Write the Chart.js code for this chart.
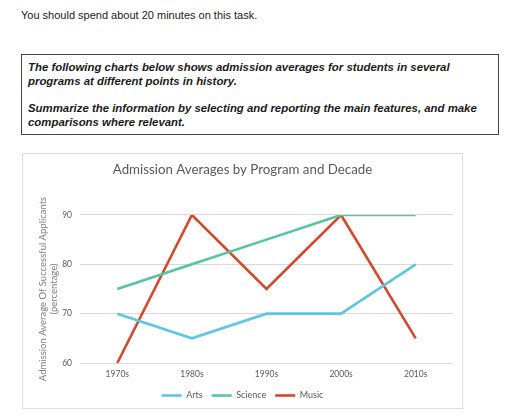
<!DOCTYPE html>
<html>
<head>
<meta charset="utf-8">
<script src="https://cdn.jsdelivr.net/npm/chart.js@4"></script>
<style>
  html, body { margin: 0; padding: 0; background: #fff; }
  body { width: 512px; height: 419px; position: relative; overflow: hidden; font-family: "Liberation Sans", Arial, sans-serif; color: #1a1a1a; }
  #intro { position: absolute; left: 21px; top: 7px; font-size: 11px; line-height: 16px; white-space: nowrap; }
  #task { position: absolute; left: 21px; top: 54px; width: 478px; height: 81px; box-sizing: border-box; border: 1px solid #444; padding: 6px 0 0 6px; font-size: 11.4px; line-height: 13.7px; font-weight: bold; font-style: italic; white-space: nowrap; }
  #task p { margin: 0 0 13.7px 0; }
  #panel { position: absolute; left: 22px; top: 153px; width: 441px; height: 256px; box-sizing: border-box; border: 1px solid #dcdcdc; }
  #chart { position: absolute; left: 22px; top: 153px; }
</style>
</head>
<body>
<div id="intro">You should spend about 20 minutes on this task.</div>
<div id="task">
  <p>The following charts below shows admission averages for students in several<br>programs at different points in history.</p>
  <p>Summarize the information by selecting and reporting the main features, and make<br>comparisons where relevant.</p>
</div>
<div id="panel"></div>
<canvas id="chart" width="441" height="256"></canvas>
<script>
const chartTitle = "Admission Averages by Program and Decade";
const yAxisTitle = ["Admission Average Of Successful Applicants", "(percentage)"];
const decades = ["1970s", "1980s", "1990s", "2000s", "2010s"];
const seriesNames = ["Arts", "Science", "Music"];
const arts = [70, 65, 70, 70, 80];
const science = [75, 80, 85, 90, 90];
const music = [60, 90, 75, 90, 65];
const yTicks = [60, 70, 80, 90];
const colors = ["#5ec6e0", "#55c4a0", "#d8462c"];

const FONT = "Lato, 'Open Sans', sans-serif";
const values = [arts, science, music];

new Chart(document.getElementById("chart"), {
  type: "line",
  data: {
    labels: decades,
    datasets: seriesNames.map((n, i) => ({
      label: n,
      data: values[i],
      borderColor: colors[i],
      backgroundColor: colors[i],
      borderWidth: 2.6,
      pointRadius: 0,
      tension: 0,
      fill: false
    }))
  },
  options: {
    responsive: false,
    animation: false,
    devicePixelRatio: 1,
    layout: { padding: { left: 10, right: 10, top: 0, bottom: -1 } },
    plugins: {
      tooltip: { enabled: false },
      title: {
        display: true,
        text: chartTitle,
        color: "#595959",
        font: { family: FONT, size: 13.3, weight: "normal" },
        padding: { top: 9, bottom: 37 }
      },
      legend: {
        position: "bottom",
        labels: {
          color: "#595959",
          font: { family: FONT, size: 9 },
          boxWidth: 20,
          boxHeight: 2.6,
          padding: 9,
          generateLabels: (chart) => Chart.defaults.plugins.legend.labels.generateLabels(chart).map(it => Object.assign(it, { lineWidth: 0 }))
        }
      }
    },
    scales: {
      x: {
        type: "category",
        offset: true,
        grid: { display: false, drawTicks: false },
        border: { display: false },
        ticks: { color: "#595959", font: { family: FONT, size: 8.5 }, padding: 6, maxRotation: 0 },
        afterFit: (s) => { s.height = 19; }
      },
      y: {
        min: 60,
        max: 90,
        afterBuildTicks: (s) => { s.ticks = yTicks.map(v => ({ value: v })); },
        grid: { color: "#d9d9d9", lineWidth: 1, drawTicks: false },
        border: { display: false },
        ticks: { color: "#595959", font: { family: FONT, size: 8.5 }, padding: 8 },
        title: {
          display: true,
          text: yAxisTitle,
          color: "#7f7f7f",
          font: { family: FONT, size: 9.5, lineHeight: "11.5px" },
          padding: { top: 5, bottom: 0 }
        },
        afterFit: (s) => { s.width = 48; }
      }
    }
  }
});
</script>
</body>
</html>
